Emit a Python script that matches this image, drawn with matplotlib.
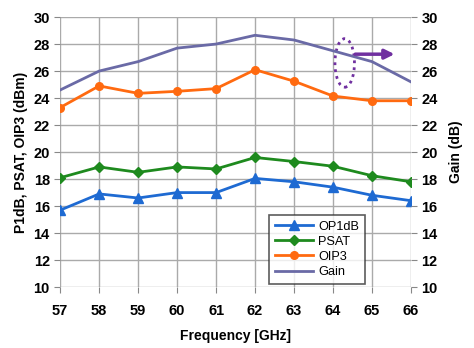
import matplotlib
matplotlib.use("Agg")
import matplotlib.pyplot as plt
from matplotlib.patches import Ellipse

plt.rcParams['font.family'] = ['Liberation Sans', 'DejaVu Sans']

# data
freq = [57, 58, 59, 60, 61, 62, 63, 64, 65, 66]
op1db = [15.7, 16.9, 16.6, 17.0, 17.0, 18.05, 17.8, 17.4, 16.8, 16.4]
psat = [18.1, 18.9, 18.5, 18.9, 18.75, 19.6, 19.3, 18.95, 18.25, 17.8]
oip3 = [23.3, 24.9, 24.35, 24.5, 24.7, 26.1, 25.25, 24.15, 23.8, 23.8]
gain = [24.6, 26.0, 26.7, 27.7, 28.0, 28.65, 28.3, 27.5, 26.7, 25.2]

fig = plt.figure(figsize=(4.74, 3.48), dpi=100)
ax = fig.add_axes([0.127, 0.175, 0.740, 0.776])
ax2 = ax.twinx()

ax.plot(freq, op1db, color='#1e6ad2', lw=2, marker='^', ms=7, label='OP1dB')
ax.plot(freq, psat, color='#1e8a1e', lw=2, marker='D', ms=5.5, label='PSAT')
ax.plot(freq, oip3, color='#ff6a10', lw=2, marker='o', ms=5.5, label='OIP3')
ax2.plot(freq, gain, color='#6a6aa6', lw=2, label='Gain')

for a in (ax, ax2):
    a.set_xlim(57, 66)
    a.set_ylim(10, 30)
    a.set_yticks(range(10, 31, 2))
    for s in a.spines.values():
        s.set_visible(False)
    a.tick_params(labelsize=10.5, length=4, color='#888888')
    for t in a.get_yticklabels() + a.get_xticklabels():
        t.set_fontweight('bold')

ax.set_xticks(freq)
ax.grid(True, color='#aaaaaa', lw=1)
ax.set_axisbelow(True)
ax.tick_params(axis='x', pad=8)

ax.set_xlabel('Frequency [GHz]', fontsize=10, fontweight='bold', labelpad=8)
ax.set_ylabel('P1dB, PSAT, OIP3 (dBm)', fontsize=10, fontweight='bold')
ax2.set_ylabel('Gain (dB)', fontsize=10, fontweight='bold', labelpad=8)

# dotted ellipse and arrow pointing to right axis
ax2.add_patch(Ellipse((64.3, 26.6), 0.5, 3.6, fill=False, ls=(0, (1, 1.5)),
                      lw=2, color='#7030a0'))
ax2.annotate('', xy=(65.65, 27.25), xytext=(64.5, 27.25),
             arrowprops=dict(arrowstyle='-|>', color='#7030a0', lw=2.5,
                             mutation_scale=14))

h1, l1 = ax.get_legend_handles_labels()
h2, l2 = ax2.get_legend_handles_labels()
leg = ax2.legend(h1 + h2, l1 + l2, loc='lower left',
                 bbox_to_anchor=(0.595, 0.012), borderaxespad=0,
                 fontsize=9.2, frameon=True,
                 fancybox=False, edgecolor='#333333', handlelength=3.0,
                 borderpad=0.45, labelspacing=0.25, handletextpad=0.4)
leg.get_frame().set_linewidth(1.2)

fig.savefig('out.png', dpi=100)
